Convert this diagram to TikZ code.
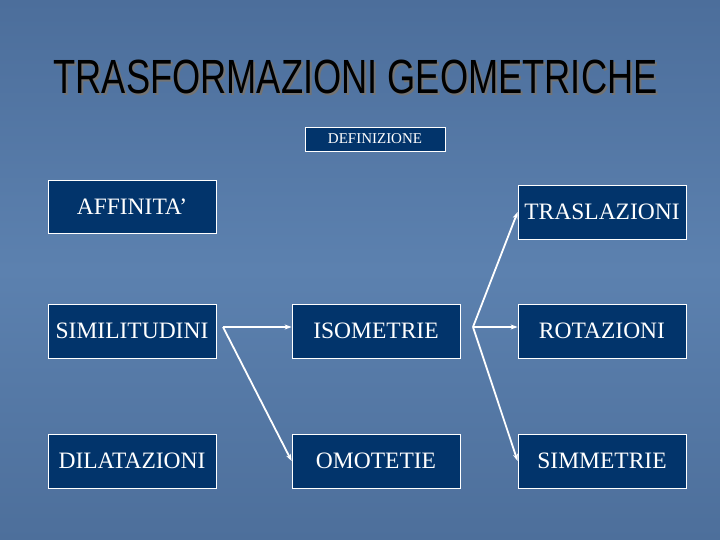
\documentclass[tikz,border=0pt]{standalone}
\usepackage{fontspec}
\setmainfont{Liberation Serif}
\newfontfamily\titlefont{Liberation Sans}
\usepackage{tikz}
\usetikzlibrary{arrows.meta}

\definecolor{bgtop}{HTML}{4C6E9B}
\definecolor{bgmid}{HTML}{5C81AF}
\definecolor{bgbot}{HTML}{4D6F9B}
\definecolor{boxblue}{HTML}{02346B}

\newcommand{\titletext}{\scalebox{0.755}[1]{TRASFORMAZIONI GEOMETRICHE}}

\tikzset{
    box/.style={draw=white, fill=boxblue, text=white, line width=0.8pt,
        minimum width=168pt, minimum height=54pt, inner sep=0pt,
        font=\fontsize{23.5}{23.5}\selectfont},
    link/.style={-{Stealth[length=7pt, width=5pt]}, draw=white, line width=1.8pt}
}

\begin{document}
\begin{tikzpicture}[x=1pt, y=-1pt]
    % Background
    \shade[top color=bgtop, bottom color=bgbot, middle color=bgmid] (0,0) rectangle (720,540);
    \useasboundingbox (0,0) rectangle (720,540);
    % Title (with shadow)
    \node[anchor=west, font=\titlefont\fontsize{48}{48}\selectfont] (titolo) at (50,78)
        {\makebox[0pt][l]{\hspace{2pt}\raisebox{-2pt}{\color{black!55}\titletext}}\titletext};
    \node[box, minimum width=140pt, minimum height=24pt, font=\fontsize{15}{15}\selectfont] (definizione) at (375,139) {DEFINIZIONE};
    % Boxes
    \node[box, minimum height=53pt] (affinita) at (132,206.5) {AFFINITA’};
    \node[box] (traslazioni) at (602,212) {TRASLAZIONI};
    \node[box] (similitudini) at (132,331) {SIMILITUDINI};
    \node[box] (isometrie) at (376,331) {ISOMETRIE};
    \node[box] (rotazioni) at (602,331) {ROTAZIONI};
    \node[box] (dilatazioni) at (132,461) {DILATAZIONI};
    \node[box] (omotetie) at (376,461) {OMOTETIE};
    \node[box] (simmetrie) at (602,461) {SIMMETRIE};
    % Arrows
    \coordinate (forkA) at (223,327);
    \coordinate (forkB) at (473,327);
    \draw[link] (forkA) -- (isometrie.west |- forkA);
    \draw[link] (forkA) -- (omotetie.west);
    \draw[link] (forkB) -- (traslazioni.west);
    \draw[link] (forkB) -- (rotazioni.west |- forkB);
    \draw[link] (forkB) -- (simmetrie.west);
\end{tikzpicture}
\end{document}
